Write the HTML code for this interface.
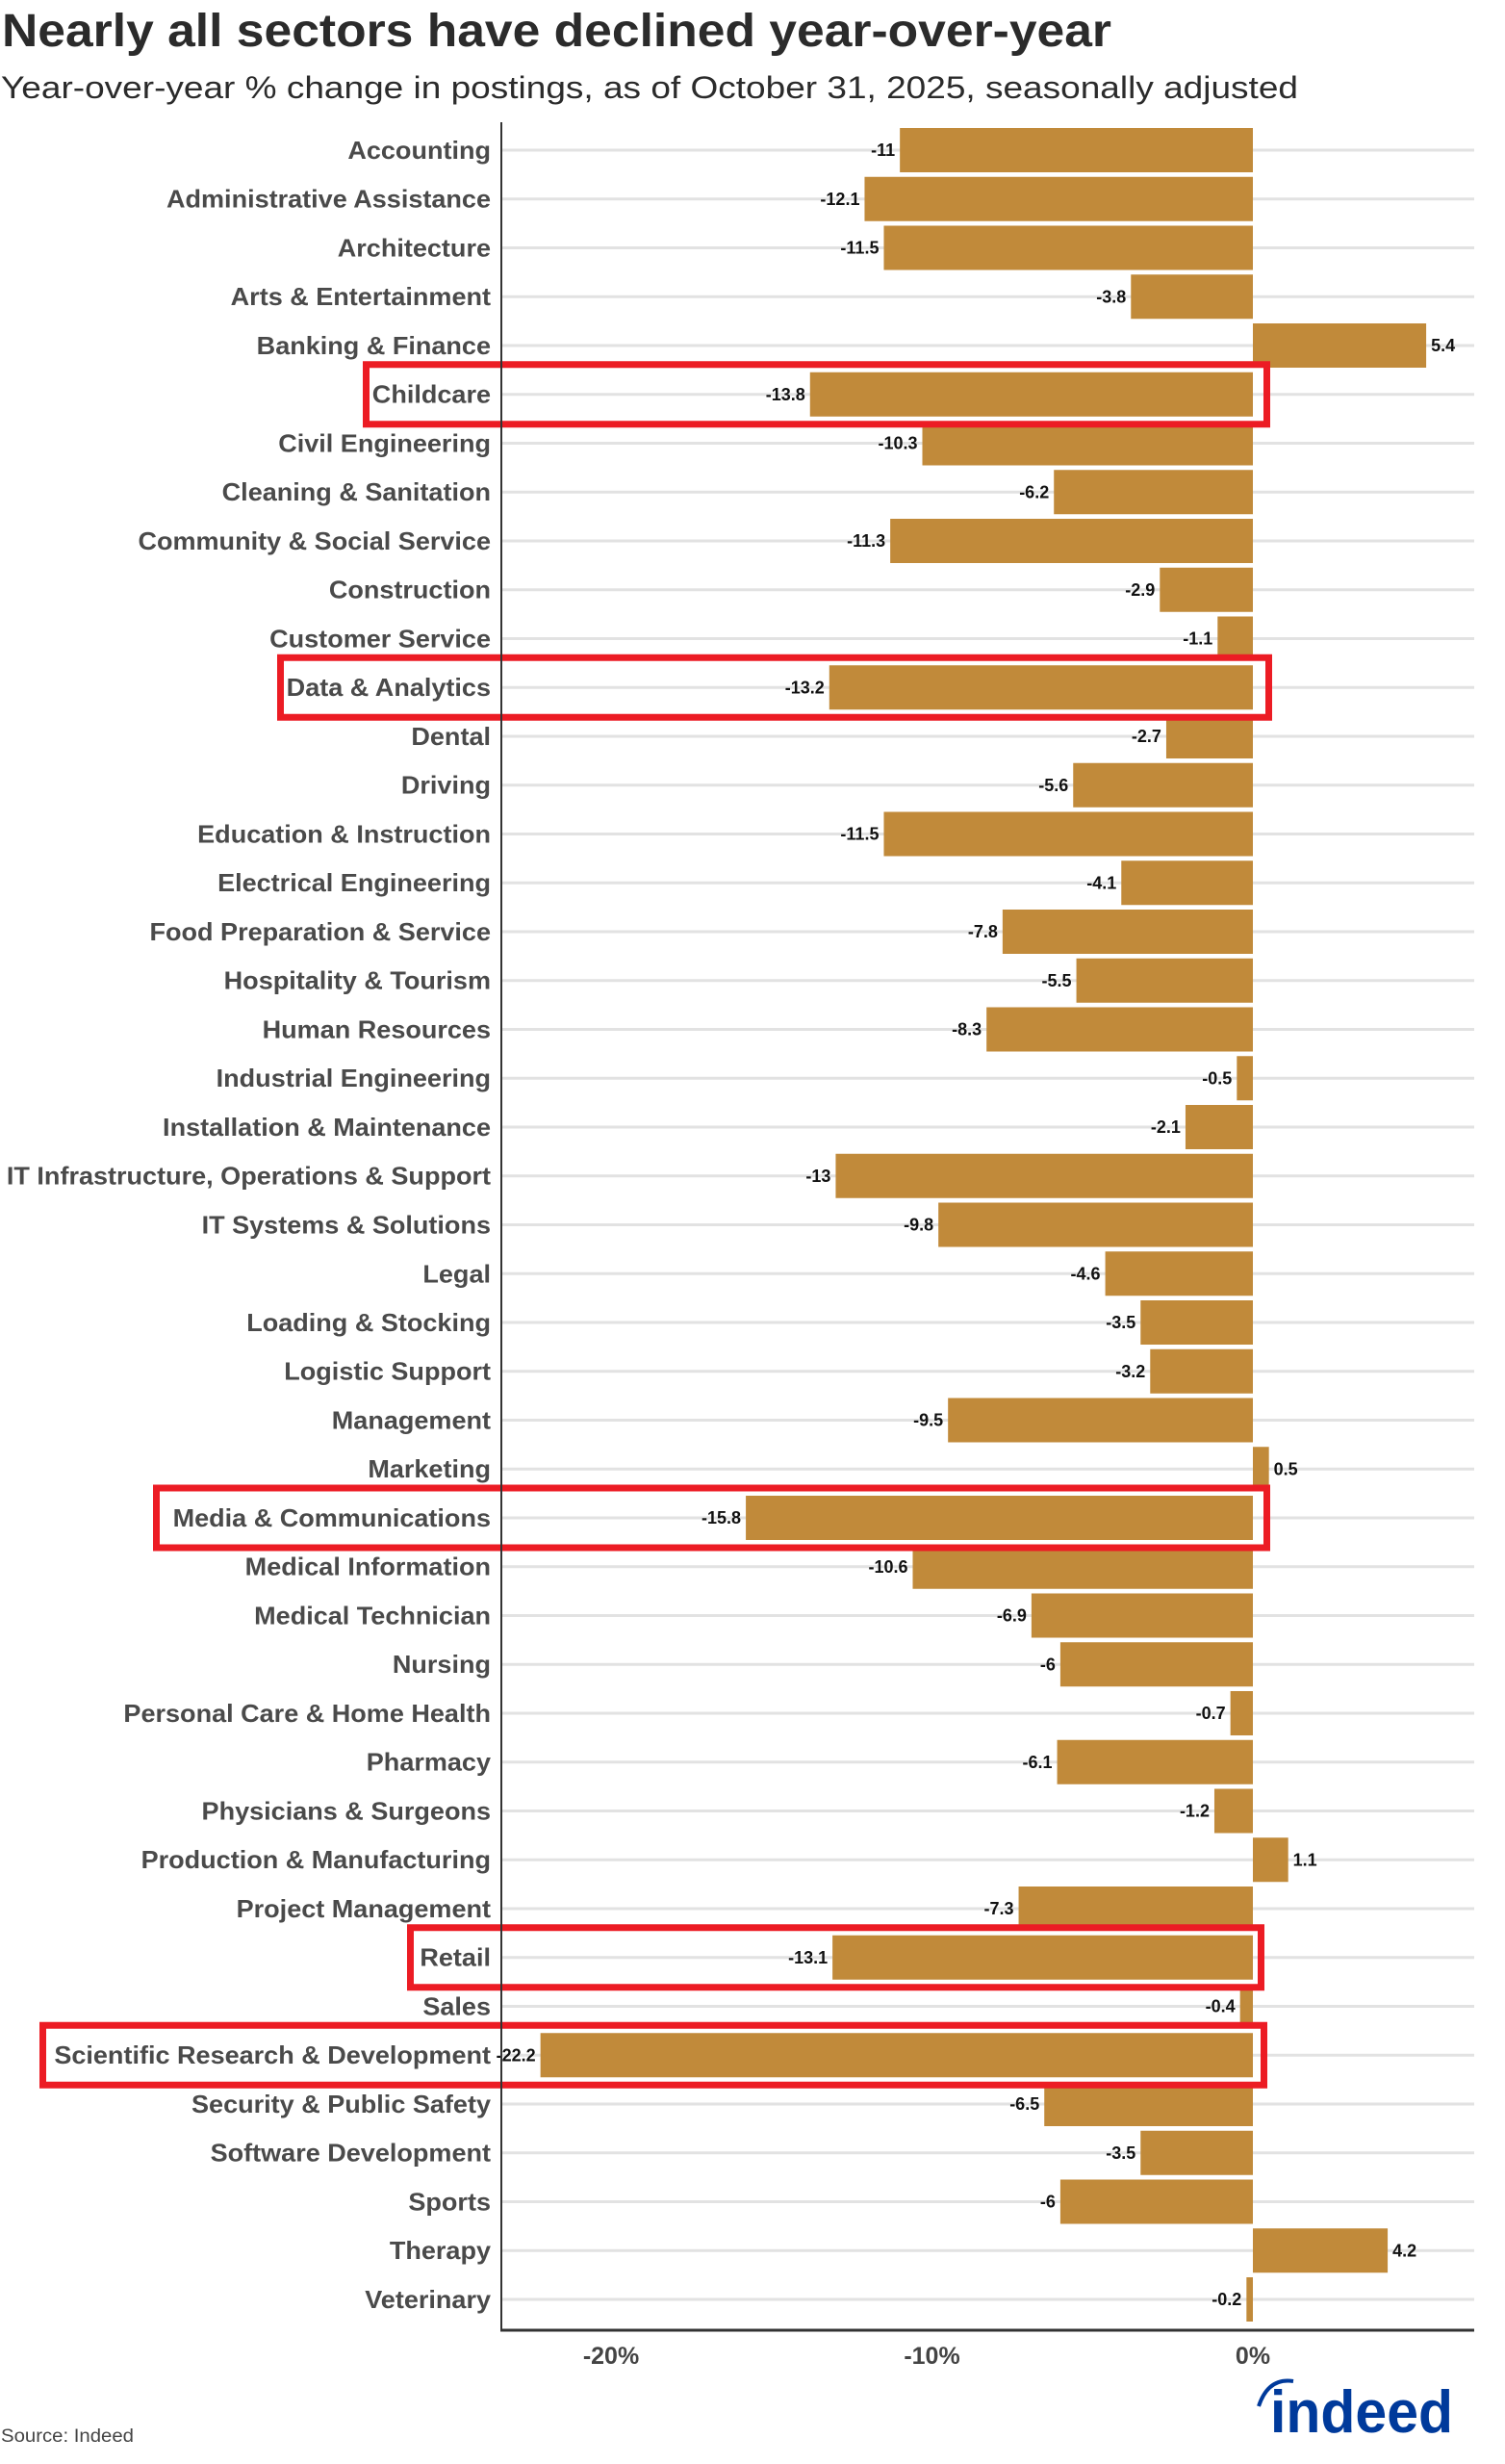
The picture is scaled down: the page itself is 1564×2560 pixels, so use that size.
<!DOCTYPE html>
<html><head><meta charset="utf-8">
<style>
html,body{margin:0;padding:0;background:#fff;}
svg{display:block;font-family:"Liberation Sans",sans-serif;}
</style></head>
<body>
<svg id="chart" width="1564" height="2560" viewBox="0 0 1564 2560" xmlns="http://www.w3.org/2000/svg">
<text x="2" y="48" font-size="48" font-weight="bold" fill="#2b2b2b" textLength="1153" lengthAdjust="spacingAndGlyphs">Nearly all sectors have declined year-over-year</text>
<text x="1" y="102" font-size="32" fill="#2b2b2b" textLength="1348" lengthAdjust="spacingAndGlyphs">Year-over-year % change in postings, as of October 31, 2025, seasonally adjusted</text>
<g id="grid"></g>
<g id="bars"></g>
<g id="labels"></g>
<g id="vals"></g>
<g id="boxes"></g>
<line x1="521" y1="127" x2="521" y2="2422" stroke="#333" stroke-width="2"/>
<line x1="520" y1="2421" x2="1532" y2="2421" stroke="#333" stroke-width="3"/>
<g id="ticks"></g>
<text x="1" y="2537" font-size="19" fill="#444" textLength="138" lengthAdjust="spacingAndGlyphs">Source: Indeed</text>
<g>
<path d="M1308 2500 Q1318 2470 1344 2474" stroke="#003a9b" stroke-width="4" fill="none"/>
<text x="1320" y="2527" font-size="62" font-weight="bold" fill="#003a9b" textLength="190" lengthAdjust="spacingAndGlyphs">indeed</text>
</g>
</svg>
<script>
const categories = ["Accounting","Administrative Assistance","Architecture","Arts & Entertainment","Banking & Finance","Childcare","Civil Engineering","Cleaning & Sanitation","Community & Social Service","Construction","Customer Service","Data & Analytics","Dental","Driving","Education & Instruction","Electrical Engineering","Food Preparation & Service","Hospitality & Tourism","Human Resources","Industrial Engineering","Installation & Maintenance","IT Infrastructure, Operations & Support","IT Systems & Solutions","Legal","Loading & Stocking","Logistic Support","Management","Marketing","Media & Communications","Medical Information","Medical Technician","Nursing","Personal Care & Home Health","Pharmacy","Physicians & Surgeons","Production & Manufacturing","Project Management","Retail","Sales","Scientific Research & Development","Security & Public Safety","Software Development","Sports","Therapy","Veterinary"];
const values = [-11,-12.1,-11.5,-3.8,5.4,-13.8,-10.3,-6.2,-11.3,-2.9,-1.1,-13.2,-2.7,-5.6,-11.5,-4.1,-7.8,-5.5,-8.3,-0.5,-2.1,-13,-9.8,-4.6,-3.5,-3.2,-9.5,0.5,-15.8,-10.6,-6.9,-6,-0.7,-6.1,-1.2,1.1,-7.3,-13.1,-0.4,-22.2,-6.5,-3.5,-6,4.2,-0.2];
const tickValues = [-20,-10,0];
const tickLabels = ["-20%","-10%","0%"];
const highlighted = ["Childcare","Data & Analytics","Media & Communications","Retail","Scientific Research & Development"];
const highlightLeft = [377,288,159,423,41];
const highlightRight = [1320,1322,1320,1314,1317];

const NS="http://www.w3.org/2000/svg";
const x = v => 1302 + 33.35*v;
const y = i => 156 + 50.75*i;
function mk(tag, attrs, parent){const e=document.createElementNS(NS,tag);for(const k in attrs)e.setAttribute(k,attrs[k]);parent.appendChild(e);return e;}
const G=id=>document.getElementById(id);

categories.forEach((c,i)=>{
  const cy=y(i), v=values[i];
  const g=mk('line',{x1:521,x2:1532,y1:cy,y2:cy,stroke:'#e2e2e2','stroke-width':3},G('grid'));
  
  
  const x0=Math.min(x(0),x(v)), w=Math.abs(x(v)-x(0));
  const b=mk('rect',{x:x0,y:cy-23,width:w,height:46,fill:'#c18a3a'},G('bars'));
  
  
  const l=mk('text',{x:0,y:cy+9,'font-size':26,'font-weight':'bold','text-anchor':'end',fill:'#4a4a4a',transform:'translate(510,0) scale(1.04,1)'},G('labels'));
  l.textContent=c;
  
  
  const t=mk('text',{x:v<0?x(v)-5:x(v)+5,y:cy+6,'font-size':18,'font-weight':'bold','text-anchor':v<0?'end':'start',fill:'#111'},G('vals'));
  t.textContent=String(v);
  
  
});
highlighted.forEach((h,k)=>{
  const i=categories.indexOf(h), cy=y(i);
  const r=mk('rect',{x:highlightLeft[k]+3.5,y:cy-31,width:highlightRight[k]-highlightLeft[k]-7,height:62,fill:'none',stroke:'#ec1c24','stroke-width':7},G('boxes'));
  
  
});
tickValues.forEach((tv,k)=>{
  const t=mk('text',{x:x(tv),y:2456,'font-size':25,'font-weight':'bold','text-anchor':'middle',fill:'#444'},G('ticks'));
  t.textContent=tickLabels[k];
  
  
});
</script>
</body></html>
